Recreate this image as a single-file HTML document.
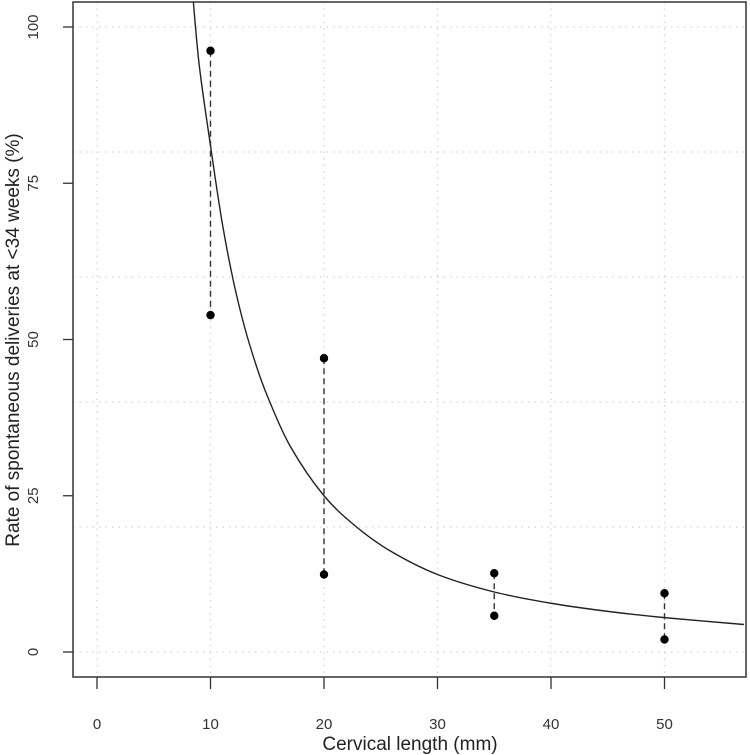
<!DOCTYPE html>
<html><head><meta charset="utf-8"><style>
html,body{margin:0;padding:0;background:#fff;}
svg{display:block;font-family:"Liberation Sans",Arial,sans-serif;}
</style></head><body>
<svg id="chart" width="750" height="755" viewBox="0 0 750 755" xmlns="http://www.w3.org/2000/svg"></svg>
<script>
const xTicks = [0, 10, 20, 30, 40, 50];
const yTicks = [0, 25, 50, 75, 100];
const yGrid = [0, 20, 40, 60, 80, 100];
const pointX = [10, 20, 35, 50];
const upperValues = [96.2, 47, 12.6, 9.4];
const lowerValues = [53.9, 12.4, 5.8, 2.0];
const curveX = [8.4, 9, 10, 11, 12, 13, 14, 15, 17, 20, 23, 26, 30, 35, 40, 45, 50, 57];
const curveY = [106, 94, 81, 69, 59.5, 52, 46, 41, 33, 25, 19.8, 16, 12.4, 9.6, 7.8, 6.5, 5.5, 4.4];

const L = 73, R = 746, T = 2, B = 677;
const xs = v => 97 + v * 11.35;
const ys = v => 652 - v * 6.25;
const svg = document.getElementById('chart');
const NS = 'http://www.w3.org/2000/svg';
function mk(tag, attrs, parent) {
  const e = document.createElementNS(NS, tag);
  for (const k in attrs) e.setAttribute(k, attrs[k]);
  (parent || svg).appendChild(e);
  return e;
}
const clip = mk('clipPath', {id: 'pc'});
mk('rect', {x: L, y: T, width: R - L, height: B - T}, clip);

xTicks.forEach(t => {
  const g = mk('line', {x1: xs(t), x2: xs(t), y1: T, y2: B, stroke: '#d3d3d3', 'stroke-dasharray': '1.5 5', 'stroke-width': 1.2});
  
  
});
yGrid.forEach(t => {
  const g = mk('line', {x1: L, x2: R, y1: ys(t), y2: ys(t), stroke: '#d3d3d3', 'stroke-dasharray': '1.5 5', 'stroke-width': 1.2});
  
  
});

let pts = curveX.map((x, i) => [xs(x), ys(curveY[i])]);
let d = 'M' + pts[0][0] + ',' + pts[0][1];
for (let i = 0; i < pts.length - 1; i++) {
  const p0 = pts[Math.max(i - 1, 0)], p1 = pts[i], p2 = pts[i + 1], p3 = pts[Math.min(i + 2, pts.length - 1)];
  const c1 = [p1[0] + (p2[0] - p0[0]) / 6, p1[1] + (p2[1] - p0[1]) / 6];
  const c2 = [p2[0] - (p3[0] - p1[0]) / 6, p2[1] - (p3[1] - p1[1]) / 6];
  d += ' C' + c1 + ' ' + c2 + ' ' + p2;
}
const curve = mk('path', {d: d, fill: 'none', stroke: '#222', 'stroke-width': 1.4, 'clip-path': 'url(#pc)'});



pointX.forEach((x, i) => {
  const ln = mk('line', {x1: xs(x), x2: xs(x), y1: ys(upperValues[i]), y2: ys(lowerValues[i]), stroke: '#333', 'stroke-width': 1.4, 'stroke-dasharray': '6 4'});
  
  
  const a = mk('circle', {cx: xs(x), cy: ys(upperValues[i]), r: 4.2, fill: '#000'});
  
  
  const b = mk('circle', {cx: xs(x), cy: ys(lowerValues[i]), r: 4.2, fill: '#000'});
  
  
});

const box = mk('rect', {x: L, y: T, width: R - L, height: B - T, fill: 'none', stroke: '#333', 'stroke-width': 1.5});



xTicks.forEach(t => {
  const tk = mk('line', {x1: xs(t), x2: xs(t), y1: B, y2: B + 12, stroke: '#333', 'stroke-width': 1.3});
  
  
  const lb = mk('text', {x: xs(t), y: 729, 'text-anchor': 'middle', 'font-size': 15, fill: '#333'});
  lb.textContent = t;
  
  
});
yTicks.forEach(t => {
  const tk = mk('line', {x1: L - 10, x2: L, y1: ys(t), y2: ys(t), stroke: '#333', 'stroke-width': 1.3});
  
  
  const lb = mk('text', {x: 38, y: ys(t), 'text-anchor': 'middle', 'font-size': 15, fill: '#333', transform: 'rotate(-90 38 ' + ys(t) + ')'});
  lb.textContent = t;
  
  
});
const xt = mk('text', {x: 410, y: 750, 'text-anchor': 'middle', 'font-size': 19, fill: '#222'});
xt.textContent = 'Cervical length (mm)';


const yt = mk('text', {x: 19, y: 340, 'text-anchor': 'middle', 'font-size': 19, fill: '#222', transform: 'rotate(-90 19 340)'});
yt.textContent = 'Rate of spontaneous deliveries at <34 weeks (%)';


</script>
</body></html>
